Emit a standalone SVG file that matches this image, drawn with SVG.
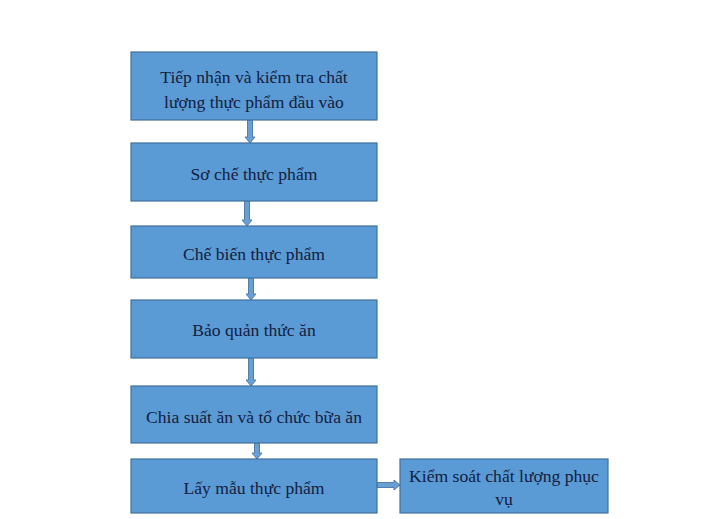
<svg xmlns="http://www.w3.org/2000/svg" width="702" height="519" viewBox="0 0 702 519">
<style>
.box{fill:#5b9bd5;stroke:#41719c;stroke-width:1.2}
.t{font-family:"Liberation Serif","Times New Roman",serif;font-size:17.6px;fill:#13203f;text-anchor:middle}
.arr{fill:#6a9fd2;stroke:#4f7fae;stroke-width:1}
</style>
<rect width="702" height="519" fill="#ffffff"/>
<g id="connectors">
<polygon class="arr" points="247.5,120 252.5,120 252.5,137 255,137 250,143 245,137 247.5,137"/>
<polygon class="arr" points="244.5,201 249.5,201 249.5,220 252,220 247,226 242,220 244.5,220"/>
<polygon class="arr" points="248.5,278 253.5,278 253.5,294 256,294 251,300 246,294 248.5,294"/>
<polygon class="arr" points="248.5,358 253.5,358 253.5,380 256,380 251,386 246,380 248.5,380"/>
<polygon class="arr" points="254.5,443 259.5,443 259.5,453 262,453 257,459 252,453 254.5,453"/>
<polygon class="arr" points="377,482.5 394,482.5 394,480 400,485 394,490 394,487.5 377,487.5"/>
</g>
<g id="n1"><rect class="box" x="131" y="52" width="246" height="68"/>
<text class="t" x="254" y="83">Tiếp nhận và kiểm tra chất</text>
<text class="t" x="254" y="108">lượng thực phẩm đầu vào</text></g>
<g id="n2"><rect class="box" x="131" y="143" width="246" height="58"/>
<text class="t" x="254" y="180">Sơ chế thực phẩm</text></g>
<g id="n3"><rect class="box" x="131" y="226" width="246" height="52"/>
<text class="t" x="254" y="260">Chế biến thực phẩm</text></g>
<g id="n4"><rect class="box" x="131" y="300" width="246" height="58"/>
<text class="t" x="254" y="336">Bảo quản thức ăn</text></g>
<g id="n5"><rect class="box" x="131" y="386" width="246" height="57"/>
<text class="t" x="254" y="423">Chia suất ăn và tổ chức bữa ăn</text></g>
<g id="n6"><rect class="box" x="131" y="459" width="246" height="54"/>
<text class="t" x="254" y="494">Lấy mẫu thực phẩm</text></g>
<g id="n7"><rect class="box" x="400" y="459" width="208" height="54"/>
<text class="t" x="504" y="482">Kiểm soát chất lượng phục</text>
<text class="t" x="504" y="505">vụ</text></g>
</svg>
